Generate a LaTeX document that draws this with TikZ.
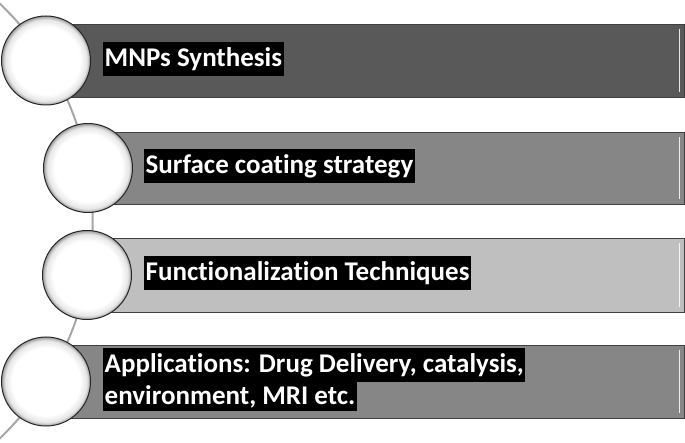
\documentclass[tikz,border=0pt]{standalone}
\usepackage{fontspec}
\setmainfont{Carlito}[Ligatures=NoCommon]
\usepackage{xcolor}
\usetikzlibrary{calc,positioning}
\definecolor{barA}{HTML}{595959}
\definecolor{barB}{HTML}{868686}
\definecolor{barC}{HTML}{BFBFBF}
\definecolor{rim}{HTML}{404040}
\pgfdeclareradialshading{ballshade}{\pgfpoint{0bp}{0bp}}{color(0bp)=(white); color(19bp)=(white); color(23bp)=(black!10); color(25bp)=(black!40); color(50bp)=(black!40)}
\tikzset{
  ball/.style={circle,draw=black!85,line width=1pt,shading=ballshade,minimum size=89pt,inner sep=0pt},
  hl/.style={fill=black,text=white,font=\fontsize{27pt}{32pt}\selectfont\bfseries,inner sep=0pt,inner xsep=1.5pt,text height=25pt,text depth=9pt,anchor=west},
}
\begin{document}
\begin{tikzpicture}[x=1pt,y=-1pt]
            \useasboundingbox (0,0) rectangle (685,443);
            % the bent guide line behind the balls
            \begin{scope}
              \clip (0,0) rectangle (685,443);
              \draw[line width=2pt,black!35] (-208,221) circle[radius=300.7pt];
            \end{scope}
            \foreach \i/\cx/\top/\bot/\col in {1/46/24/97/barA,2/88/132/204/barB,3/87/238/312/barC,4/46/345/418/barB}{
                    \draw[rim,line width=0.8pt,fill=\col](\cx,\top)rectangle(684,\bot);
                    \draw[white!85!\col,line width=1pt](679,\top+5)--(679,\bot-5);
                    \node[ball] (c\i) at (\cx,{(\top+\bot)/2}) {};}
            \node[hl] (synth) at (103,59) {MNPs Synthesis};
            \node[hl] (coat) at (144,166) {Surface coating strategy};
            \node[hl] (func) at (144,273) {Functionalization Techniques};
            \node[hl] (app1) at (103,365) {Applications: Drug Delivery, catalysis,};
            \node[hl,text height=22pt,text depth=7pt] (app2) at (103,396.5) {environment, MRI etc.};
        \end{tikzpicture}
\end{document}
